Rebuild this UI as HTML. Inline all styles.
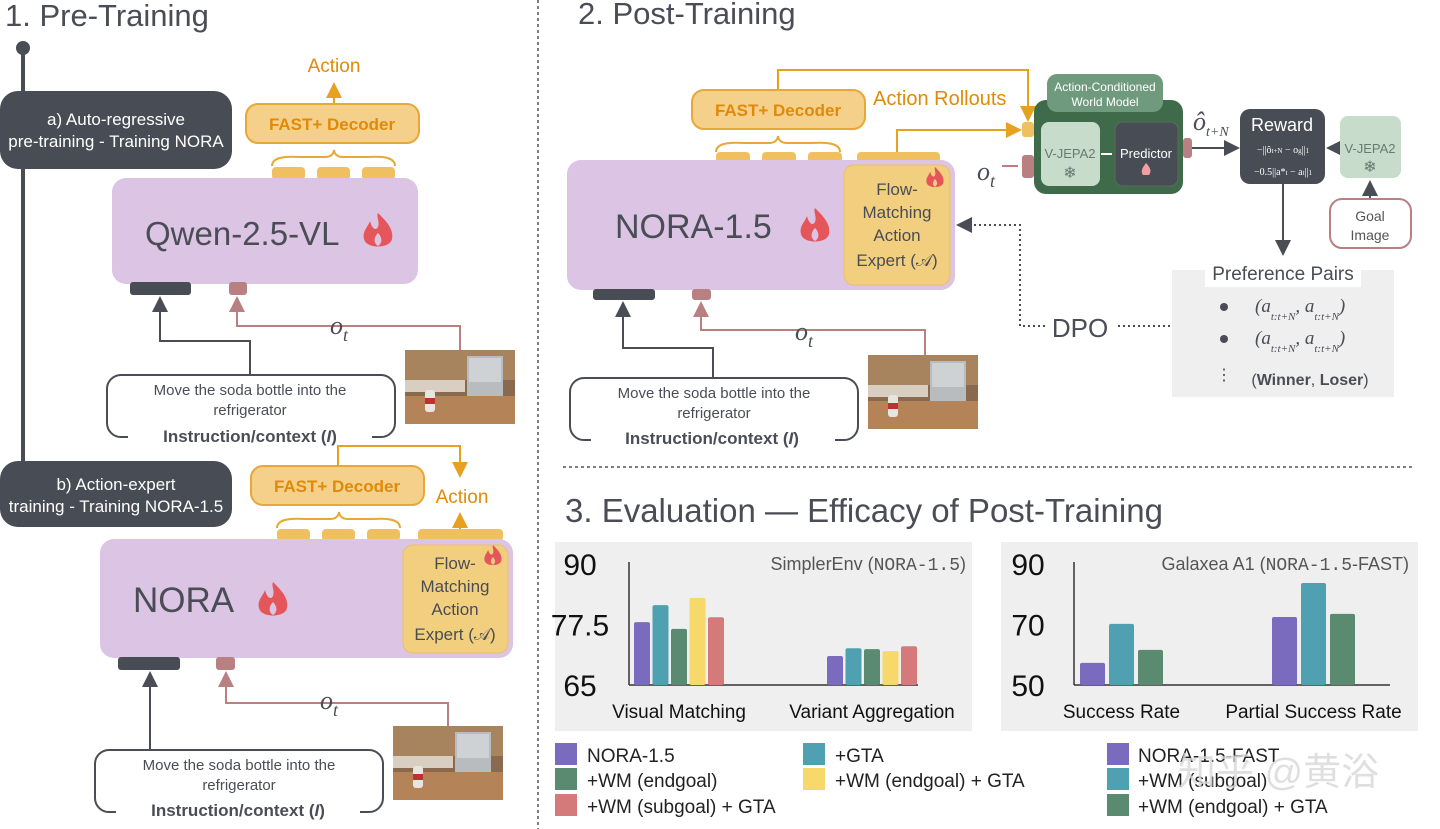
<!DOCTYPE html>
<html><head><meta charset="utf-8">
<style>
html,body{margin:0;padding:0;background:#fff;}
svg{display:block;font-family:"Liberation Sans","Noto Sans CJK SC",sans-serif;}
.ti{font-size:31px;fill:#4a4d55;}
.wt{fill:#fff;font-size:17px;text-anchor:middle;}
.or{fill:#e08a0a;}
.dec{font-size:17px;font-weight:bold;fill:#e08a0a;text-anchor:middle;}
.ins{font-size:15px;fill:#4a4d55;text-anchor:middle;}
.insb{font-size:17px;font-weight:bold;fill:#4a4d55;text-anchor:middle;}
.ot{font-family:"Liberation Serif",serif;font-style:italic;font-size:26px;fill:#4a4d55;}
.fm{font-size:17px;fill:#4a4d55;text-anchor:middle;}
.leg{font-size:19px;fill:#222;}
.tk{font-size:30px;fill:#111;}
.cat{font-size:19px;fill:#111;text-anchor:middle;}
</style></head>
<body>
<svg id="root" width="1440" height="829" viewBox="0 0 1440 829">
<defs>
<marker id="ad" markerWidth="8" markerHeight="8" refX="6" refY="4" orient="auto"><path d="M0,0 L8,4 L0,8 z" fill="#4a4d55"/></marker>
<marker id="ao" markerWidth="8" markerHeight="8" refX="6" refY="4" orient="auto"><path d="M0,0 L8,4 L0,8 z" fill="#e8a020"/></marker>
<marker id="ar" markerWidth="8" markerHeight="8" refX="6" refY="4" orient="auto"><path d="M0,0 L8,4 L0,8 z" fill="#b88080"/></marker>
<g id="flame"><path d="M0,-20 C8,-12 16,-4 14,6 C12,16 -12,16 -14,6 C-16,-2 -10,-6 -8,-12 C-6,-4 -2,-2 0,-6 C2,-12 -2,-16 0,-20z" fill="#e5565b"/><path d="M0,0 C4,4 5,10 0,13 C-5,10 -4,4 0,0z" fill="#dcc4e4"/></g>
<g id="flame2"><path d="M0,-20 C8,-12 16,-4 14,6 C12,16 -12,16 -14,6 C-16,-2 -10,-6 -8,-12 C-6,-4 -2,-2 0,-6 C2,-12 -2,-16 0,-20z" fill="#e5565b"/><path d="M0,0 C4,4 5,10 0,13 C-5,10 -4,4 0,0z" fill="#f2cf7f"/></g>
<g id="kitchen"><rect x="0" y="0" width="110" height="74" fill="#8a6a4e"/><rect x="0" y="0" width="110" height="30" fill="#a8845e"/><rect x="0" y="30" width="60" height="12" fill="#d8cfc2"/><rect x="62" y="6" width="36" height="66" fill="#b9bcbe"/><rect x="64" y="8" width="32" height="24" fill="#cfd2d4"/><rect x="0" y="46" width="110" height="28" fill="#b58358"/><rect x="20" y="40" width="10" height="22" rx="3" fill="#e8e4e0"/><rect x="20" y="48" width="10" height="6" fill="#c03030"/></g>
</defs>

<text class="ti" x="5" y="26">1. Pre-Training</text>
<line x1="23" y1="48" x2="23" y2="470" stroke="#4a4d55" stroke-width="4"/>
<circle cx="23" cy="48" r="7" fill="#4a4d55"/>
<g><rect x="0" y="91" width="232" height="78" rx="18" fill="#474c55"/><text class="wt" x="116" y="125">a) Auto-regressive</text><text class="wt" x="116" y="147">pre-training - Training NORA</text></g>
<text class="or" x="334" y="72" font-size="19" text-anchor="middle">Action</text>
<line x1="334" y1="103" x2="334" y2="86" stroke="#e8a020" stroke-width="2" marker-end="url(#ao)"/>
<g><rect x="246" y="104" width="173" height="39" rx="12" fill="#f5d08a" stroke="#e8a838" stroke-width="2"/><text class="dec" x="332" y="130">FAST+ Decoder</text></g>
<path d="M272,166 Q272,155 300,157 L325,157 Q333,157 334,150 Q335,157 343,157 L368,157 Q395,155 395,166" fill="none" stroke="#e8a838" stroke-width="2"/>
<rect x="272" y="167" width="33" height="13" rx="4" fill="#f0c060"/><rect x="317" y="167" width="33" height="13" rx="4" fill="#f0c060"/><rect x="362" y="167" width="33" height="13" rx="4" fill="#f0c060"/>
<g><rect x="112" y="178" width="306" height="106" rx="14" fill="#dcc4e4"/><text x="145" y="245" font-size="33" fill="#4a4d55">Qwen-2.5-VL</text><use href="#flame" x="378" y="233"/></g>
<rect x="130" y="282" width="61" height="13" rx="3" fill="#474c55"/><rect x="229" y="282" width="18" height="13" rx="3" fill="#b88080"/>
<path d="M250,375 L250,341 L160,341 L160,300" fill="none" stroke="#4a4d55" stroke-width="2" marker-end="url(#ad)"/>
<path d="M460,350 L460,326 L237,326 L237,300" fill="none" stroke="#b88080" stroke-width="2" marker-end="url(#ar)"/>
<text class="ot" x="330" y="334">o<tspan font-size="18" dy="7">t</tspan></text>
<g><rect x="107" y="375" width="288" height="62" rx="14" fill="#fff" stroke="#4a4d55" stroke-width="2"/><text class="ins" x="250" y="395">Move the soda bottle into the</text><text class="ins" x="250" y="415">refrigerator</text><rect x="128" y="426" width="244" height="20" fill="#fff"/><text class="insb" x="250" y="442">Instruction/context (<tspan font-style="italic">I</tspan>)</text></g>
<use href="#kitchen" x="405" y="350"/>

<g><rect x="0" y="461" width="232" height="66" rx="18" fill="#474c55"/><text class="wt" x="116" y="490">b) Action-expert</text><text class="wt" x="116" y="512">training - Training NORA-1.5</text></g>
<g><rect x="251" y="466" width="173" height="39" rx="12" fill="#f5d08a" stroke="#e8a838" stroke-width="2"/><text class="dec" x="337" y="492">FAST+ Decoder</text></g>
<path d="M338,466 L338,446 L460,446 L460,474" fill="none" stroke="#e8a020" stroke-width="2" marker-end="url(#ao)"/>
<text class="or" x="462" y="503" font-size="19" text-anchor="middle">Action</text>
<line x1="460" y1="530" x2="460" y2="516" stroke="#e8a020" stroke-width="2" marker-end="url(#ao)"/>
<path d="M277,528 Q277,517 305,519 L330,519 Q338,519 339,512 Q340,519 348,519 L373,519 Q400,517 400,528" fill="none" stroke="#e8a838" stroke-width="2"/>
<rect x="277" y="529" width="33" height="12" rx="4" fill="#f0c060"/><rect x="322" y="529" width="33" height="12" rx="4" fill="#f0c060"/><rect x="367" y="529" width="33" height="12" rx="4" fill="#f0c060"/><rect x="418" y="529" width="85" height="12" rx="4" fill="#f0c060"/>
<g><rect x="100" y="539" width="413" height="119" rx="14" fill="#dcc4e4"/><text x="133" y="612" font-size="35" fill="#4a4d55">NORA</text><use href="#flame" x="273" y="602"/>
<rect x="403" y="545" width="105" height="108" rx="10" fill="#f2cf7f" stroke="#ecc060" stroke-width="1"/><text class="fm" x="455" y="569">Flow-</text><text class="fm" x="455" y="592">Matching</text><text class="fm" x="455" y="615">Action</text><text class="fm" x="455" y="640">Expert (𝒜)</text><use href="#flame2" transform="translate(493,557) scale(0.6)"/></g>
<rect x="118" y="657" width="62" height="13" rx="3" fill="#474c55"/><rect x="216" y="657" width="19" height="13" rx="3" fill="#b88080"/>
<path d="M150,750 L150,675" fill="none" stroke="#4a4d55" stroke-width="2" marker-end="url(#ad)"/>
<path d="M448,726 L448,703 L226,703 L226,675" fill="none" stroke="#b88080" stroke-width="2" marker-end="url(#ar)"/>
<text class="ot" x="320" y="709">o<tspan font-size="18" dy="7">t</tspan></text>
<g><rect x="95" y="750" width="288" height="62" rx="14" fill="#fff" stroke="#4a4d55" stroke-width="2"/><text class="ins" x="239" y="770">Move the soda bottle into the</text><text class="ins" x="239" y="790">refrigerator</text><rect x="116" y="801" width="244" height="20" fill="#fff"/><text class="insb" x="238" y="816">Instruction/context (<tspan font-style="italic">I</tspan>)</text></g>
<use href="#kitchen" x="393" y="726"/>

<line x1="538" y1="0" x2="538" y2="829" stroke="#555" stroke-width="1.5" stroke-dasharray="3,3"/>

<text class="ti" x="578" y="24">2. Post-Training</text>
<path d="M778,90 L778,70 L1028,70 L1028,118" fill="none" stroke="#e8a020" stroke-width="2" marker-end="url(#ao)"/>
<path d="M897,153 L897,130 L1018,130" fill="none" stroke="#e8a020" stroke-width="2" marker-end="url(#ao)"/>
<g><rect x="692" y="90" width="173" height="39" rx="12" fill="#f5d08a" stroke="#e8a838" stroke-width="2"/><text class="dec" x="778" y="116">FAST+ Decoder</text></g>
<text class="or" x="873" y="105" font-size="20">Action Rollouts</text>
<path d="M716,152 Q716,141 744,143 L769,143 Q777,143 778,136 Q779,143 787,143 L812,143 Q840,141 840,152" fill="none" stroke="#e8a838" stroke-width="2"/>
<rect x="716" y="152" width="34" height="11" rx="4" fill="#f0c060"/><rect x="762" y="152" width="34" height="11" rx="4" fill="#f0c060"/><rect x="808" y="152" width="34" height="11" rx="4" fill="#f0c060"/><rect x="857" y="152" width="83" height="11" rx="4" fill="#f0c060"/>
<g><rect x="567" y="160" width="388" height="130" rx="14" fill="#dcc4e4"/><text x="615" y="238" font-size="34" fill="#4a4d55">NORA-1.5</text><use href="#flame" x="815" y="228"/>
<rect x="844" y="165" width="106" height="120" rx="10" fill="#f2cf7f" stroke="#ecc060" stroke-width="1"/><text class="fm" x="897" y="195">Flow-</text><text class="fm" x="897" y="218">Matching</text><text class="fm" x="897" y="241">Action</text><text class="fm" x="897" y="266">Expert (𝒜)</text><use href="#flame2" transform="translate(935,179) scale(0.6)"/></g>
<rect x="593" y="289" width="62" height="11" rx="3" fill="#474c55"/><rect x="692" y="289" width="19" height="11" rx="3" fill="#b88080"/>
<path d="M713,378 L713,348 L623,348 L623,305" fill="none" stroke="#4a4d55" stroke-width="2" marker-end="url(#ad)"/>
<path d="M925,355 L925,330 L701,330 L701,305" fill="none" stroke="#b88080" stroke-width="2" marker-end="url(#ar)"/>
<text class="ot" x="795" y="340">o<tspan font-size="18" dy="7">t</tspan></text>
<g><rect x="570" y="378" width="288" height="62" rx="14" fill="#fff" stroke="#4a4d55" stroke-width="2"/><text class="ins" x="714" y="398">Move the soda bottle into the</text><text class="ins" x="714" y="418">refrigerator</text><rect x="591" y="429" width="244" height="20" fill="#fff"/><text class="insb" x="712" y="444">Instruction/context (<tspan font-style="italic">I</tspan>)</text></g>
<use href="#kitchen" x="868" y="355"/>
<text class="ot" x="977" y="180">o<tspan font-size="18" dy="7">t</tspan></text>
<line x1="1002" y1="166" x2="1018" y2="166" stroke="#b88080" stroke-width="2"/>
<rect x="1022" y="122" width="12" height="15" rx="3" fill="#f0c060"/><rect x="1022" y="155" width="12" height="23" rx="3" fill="#b88080"/>
<g><rect x="1034" y="100" width="149" height="94" rx="12" fill="#3f6b4a"/><rect x="1047" y="74" width="116" height="38" rx="10" fill="#6f9a7d"/><text x="1105" y="91" font-size="12" fill="#fff" text-anchor="middle">Action-Conditioned</text><text x="1105" y="106" font-size="12" fill="#fff" text-anchor="middle">World Model</text>
<rect x="1041" y="122" width="59" height="64" rx="8" fill="#c8dccb"/><text x="1070" y="158" font-size="13" fill="#6a7a70" text-anchor="middle">V-JEPA2</text><text x="1070" y="178" font-size="16" fill="#6a7a70" text-anchor="middle">❄</text>
<line x1="1101" y1="154" x2="1112" y2="154" stroke="#fff" stroke-width="2"/><rect x="1115" y="122" width="63" height="64" rx="8" fill="#474c55" stroke="#5a6a5e"/><text x="1146" y="158" font-size="13" fill="#fff" text-anchor="middle">Predictor</text><path d="M1146,163 c4,4 6,8 3,12 h-6 c-3,-4 0,-8 3,-12z" fill="#f0a0a0"/></g>
<rect x="1183" y="138" width="9" height="20" rx="3" fill="#b88080"/>
<line x1="1192" y1="148" x2="1236" y2="148" stroke="#4a4d55" stroke-width="2" marker-end="url(#ad)"/>
<text class="ot" x="1193" y="130" font-size="22">ô<tspan font-size="14" dy="6">t+N</tspan></text>
<g><rect x="1240" y="109" width="85" height="75" rx="10" fill="#474c55"/><text x="1282" y="131" font-size="18" fill="#fff" text-anchor="middle">Reward</text><text x="1283" y="153" font-size="10" fill="#fff" text-anchor="middle" font-family="Liberation Serif,serif">−||ô<tspan font-size="7">t+N</tspan> − o<tspan font-size="7">g</tspan>||<tspan font-size="7">1</tspan></text><text x="1283" y="175" font-size="10" fill="#fff" text-anchor="middle" font-family="Liberation Serif,serif">−0.5||a*<tspan font-size="7">t</tspan> − a<tspan font-size="7">t</tspan>||<tspan font-size="7">1</tspan></text></g>
<line x1="1340" y1="148" x2="1330" y2="148" stroke="#4a4d55" stroke-width="2" marker-end="url(#ad)"/>
<g><rect x="1340" y="116" width="61" height="62" rx="8" fill="#c8dccb"/><text x="1370" y="153" font-size="13" fill="#6a7a70" text-anchor="middle">V-JEPA2</text><text x="1370" y="172" font-size="16" fill="#6a7a70" text-anchor="middle">❄</text></g>
<line x1="1370" y1="199" x2="1370" y2="184" stroke="#4a4d55" stroke-width="2" marker-end="url(#ad)"/>
<g><rect x="1330" y="199" width="81" height="49" rx="12" fill="#fff" stroke="#b88080" stroke-width="2"/><text x="1370" y="221" font-size="14" fill="#555" text-anchor="middle">Goal</text><text x="1370" y="240" font-size="14" fill="#555" text-anchor="middle">Image</text></g>
<line x1="1283" y1="184" x2="1283" y2="252" stroke="#4a4d55" stroke-width="2" marker-end="url(#ad)"/>
<g><rect x="1172" y="270" width="222" height="127" fill="#efefef"/><rect x="1205" y="263" width="156" height="24" fill="#fff"/><text x="1283" y="280" font-size="19" fill="#4a4d55" text-anchor="middle">Preference Pairs</text>
<circle cx="1224" cy="307" r="4" fill="#4a4d55"/><circle cx="1224" cy="339" r="4" fill="#4a4d55"/>
<text x="1255" y="312" font-size="19" font-family="Liberation Serif,serif" font-style="italic" fill="#4a4d55">(a<tspan font-size="11" dy="8">t:t+N</tspan><tspan dy="-8">, a</tspan><tspan font-size="11" dy="8">t:t+N</tspan><tspan dy="-8">)</tspan></text>
<text x="1255" y="344" font-size="19" font-family="Liberation Serif,serif" font-style="italic" fill="#4a4d55">(a<tspan font-size="11" dy="8">t:t+N</tspan><tspan dy="-8">, a</tspan><tspan font-size="11" dy="8">t:t+N</tspan><tspan dy="-8">)</tspan></text>
<text x="1224" y="380" font-size="16" fill="#4a4d55" text-anchor="middle">⋮</text>
<text x="1310" y="385" font-size="16" fill="#4a4d55" text-anchor="middle">(<tspan font-weight="bold">Winner</tspan>, <tspan font-weight="bold">Loser</tspan>)</text></g>
<path d="M1170,326 L1115,326 M1045,326 L1020,326 L1020,225 L960,225" fill="none" stroke="#4a4d55" stroke-width="2" stroke-dasharray="2,3" marker-end="url(#ad)"/>
<text x="1080" y="337" font-size="26" fill="#4a4d55" text-anchor="middle">DPO</text>
<line x1="563" y1="467" x2="1412" y2="467" stroke="#555" stroke-width="1.5" stroke-dasharray="3,3"/>
<text x="565" y="522" font-size="33" fill="#4a4d55">3. Evaluation — Efficacy of Post-Training</text>

<rect x="555" y="542" width="417" height="189" fill="#efefef"/>
<rect x="1001" y="542" width="417" height="189" fill="#efefef"/>
<text x="966" y="570" font-size="18" fill="#555" text-anchor="end">SimplerEnv (<tspan font-family="Liberation Mono,monospace">NORA-1.5</tspan>)</text>
<text x="1409" y="570" font-size="18" fill="#555" text-anchor="end">Galaxea A1 (<tspan font-family="Liberation Mono,monospace">NORA-1.5</tspan>-FAST)</text>
<g id="c1"></g><g id="c2"></g>

<g>
<rect x="555" y="743" width="22" height="22" fill="#7b6bbf"/><text class="leg" x="587" y="762">NORA-1.5</text>
<rect x="555" y="768" width="22" height="22" fill="#5a8a70"/><text class="leg" x="587" y="787">+WM (endgoal)</text>
<rect x="555" y="794" width="22" height="22" fill="#d47a7a"/><text class="leg" x="587" y="813">+WM (subgoal) + GTA</text>
<rect x="803" y="743" width="22" height="22" fill="#4fa0b0"/><text class="leg" x="835" y="762">+GTA</text>
<rect x="803" y="768" width="22" height="22" fill="#f7d86a"/><text class="leg" x="835" y="787">+WM (endgoal) + GTA</text>
</g>
<g>
<rect x="1107" y="743" width="22" height="22" fill="#7b6bbf"/><text class="leg" x="1138" y="762">NORA-1.5-FAST</text>
<rect x="1107" y="768" width="22" height="22" fill="#4fa0b0"/><text class="leg" x="1138" y="787">+WM (subgoal)</text>
<rect x="1107" y="794" width="22" height="22" fill="#5a8a70"/><text class="leg" x="1138" y="813">+WM (endgoal) + GTA</text>
</g>
<text x="1178" y="785" font-size="38" fill="#d8d8d8" opacity="0.8">知乎 @黄浴</text>
</svg>
<script>
const c1Cats = ["Visual Matching","Variant Aggregation"];
const c1Ticks = [65,77.5,90];
const c1Colors = ["#7b6bbf","#4fa0b0","#5a8a70","#f7d86a","#d47a7a"];
const c1VM = [78.0,81.5,76.6,83.0,79.0];
const c1VA = [71.0,72.6,72.4,72.0,73.0];
const c2Cats = ["Success Rate","Partial Success Rate"];
const c2Ticks = [50,70,90];
const c2Colors = ["#7b6bbf","#4fa0b0","#5a8a70"];
const c2SR = [57.3,70.2,61.6];
const c2PSR = [72.5,83.7,73.5];

const NS="http://www.w3.org/2000/svg";
function mk(t,a,p){const e=document.createElementNS(NS,t);for(const k in a)e.setAttribute(k,a[k]);p.appendChild(e);return e;}
function chart(g,axX,x1,ticks,cats,groups,colors,groupStarts,bw,gap,tickLabelX){
  const y0=685,y1=564,min=ticks[0],max=ticks[ticks.length-1];
  const y=v=>y0-(v-min)/(max-min)*(y0-y1);
  mk("line",{x1:axX,y1:562,x2:axX,y2:y0,stroke:"#333","stroke-width":1.5},g);
  mk("line",{x1:axX,y1:y0,x2:x1,y2:y0,stroke:"#333","stroke-width":1.5},g);
  ticks.forEach(t=>{const tx=mk("text",{class:"tk",x:tickLabelX,y:y(t)+11,"text-anchor":"middle"},g);tx.textContent=t;
    
    });
  groups.forEach((vals,gi)=>{
    vals.forEach((v,i)=>{
      const x=groupStarts[gi]+i*(bw+gap);
      const r=mk("rect",{x:x,y:y(v),width:bw,height:y0-y(v),rx:2,fill:colors[i]},g);
      
      
    });
    const w=vals.length*(bw+gap)-gap;
    const c=mk("text",{class:"cat",x:groupStarts[gi]+w/2,y:718},g);c.textContent=cats[gi];
    
    
  });
}
chart(document.getElementById("c1"),629,918,c1Ticks,c1Cats,[c1VM,c1VA],c1Colors,[634,827],16,2.5,580);
chart(document.getElementById("c2"),1074,1390,c2Ticks,c2Cats,[c2SR,c2PSR],c2Colors,[1080,1272],25,4,1028);
document.getElementById("c1");
document.getElementById("c1");
document.getElementById("c2");
document.getElementById("c2");
</script>
</body></html>
